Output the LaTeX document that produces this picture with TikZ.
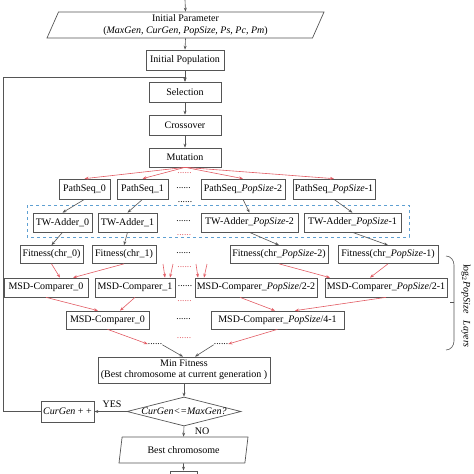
\documentclass[tikz,border=0pt]{standalone}
\usepackage{fontspec}
\setmainfont{Liberation Serif}
\usetikzlibrary{positioning,calc,arrows.meta,shapes.geometric}
\tikzset{>={Stealth[length=4pt,width=3pt]}}
\definecolor{boxgray}{RGB}{85,85,85}
\definecolor{arrred}{RGB}{226,92,100}
\definecolor{dashblue}{RGB}{95,160,210}
\tikzset{
  block/.style={draw=boxgray,line width=0.7pt,inner sep=1pt,minimum height=20pt,
    font=\fontsize{10}{11.5}\selectfont},
  para/.style={block,trapezium,trapezium stretches body=true,align=center},
  flow/.style={draw=boxgray,line width=0.6pt,->},
  redflow/.style={draw=arrred,line width=0.6pt,->},
  dotsb/.style={font=\fontsize{9.5}{11}\selectfont,inner sep=0pt},
  dotsr/.style={dotsb,text=arrred},
  lbl/.style={font=\fontsize{10}{11}\selectfont,inner sep=0pt}
}
\begin{document}
\begin{tikzpicture}[x=1pt,y=-1pt]
\useasboundingbox (0,0) rectangle (474,474);

% Parameters and the GA operators
\coordinate (start) at (185,0);
\node[para,minimum width=277pt,minimum height=26pt,trapezium left angle=63,
  trapezium right angle=117] (param) at (185.5,25)
  {Initial Parameter\\(\textit{MaxGen, CurGen, PopSize, Ps, Pc, Pm})};
\node[block,minimum width=78pt] (initpop) at (185,60) {Initial Population};
\node[block,minimum width=72pt] (select) at (185,92) {Selection};
\node[block,minimum width=72pt] (cross) at (185,125) {Crossover};
\node[block,minimum width=72pt,minimum height=19pt] (mutat) at (185,157.5) {Mutation};
\draw[flow] (start) -- (param.north);
\draw[flow] (param.south) -- (initpop.north);
\draw[flow] (initpop.south) -- (select.north);
\draw[flow] (select) -- (cross);
\draw[flow] (cross) -- (mutat);

% Path sequences
\node[block,minimum width=51pt] (ps0) at (84.5,189) {PathSeq\_0};
\node[block,minimum width=51pt] (ps1) at (142.5,189) {PathSeq\_1};
\node[block,minimum width=84pt] (psn2) at (243,189) {PathSeq\_\textit{PopSize}-2};
\node[block,minimum width=82pt] (psn1) at (334,189) {PathSeq\_\textit{PopSize}-1};
\node[dotsr] (rd0) at (184.5,173) {......};
\node[dotsb] (bd0) at (183.5,188) {......};
\foreach \p in {ps0,ps1,psn2,psn1}
  \draw[redflow] (mutat.south) -- (\p.north);

% Time-window adders in the dashed frame
\draw[dashblue,dashed,line width=0.7pt] (27,205) rectangle (409,237);
\node[block,minimum width=59pt,minimum height=19pt] (tw0) at (62.5,222.5) {TW-Adder\_0};
\node[block,minimum width=59pt,minimum height=19pt] (tw1) at (127.5,222.5) {TW-Adder\_1};
\node[block,minimum width=97pt,minimum height=19pt] (twn2) at (249.5,222.5) {TW-Adder\_\textit{PopSize}-2};
\node[block,minimum width=97pt,minimum height=19pt] (twn1) at (352.5,222.5) {TW-Adder\_\textit{PopSize}-1};
\node[dotsb] (bd1) at (185,202) {......};
\node[dotsb] (bd2) at (183.5,221.5) {......};
\node[dotsr] (rd1) at (184,235) {......};
\draw[flow] (ps0.south) -- (tw0.north);
\draw[flow] (ps1.south) -- (tw1.north);
\draw[flow] (psn2.south) -- (twn2.north);
\draw[flow] (psn1.south) -- (twn1.north);

% Fitness of each chromosome
\node[block,minimum width=63pt,minimum height=18pt] (fit0) at (51.5,254.5) {Fitness(chr\_0)};
\node[block,minimum width=64pt,minimum height=18pt] (fit1) at (124,254.5) {Fitness(chr\_1)};
\node[block,minimum width=98pt,minimum height=18pt] (fitn2) at (279,254.5) {Fitness(chr\_\textit{PopSize}-2)};
\node[block,minimum width=100pt,minimum height=18pt] (fitn1) at (388,254.5) {Fitness(chr\_\textit{PopSize}-1)};
\node[dotsb] (bd3) at (183.5,253.5) {......};
\draw[flow] (tw0.south) -- (fit0.north);
\draw[flow] (tw1.south) -- (fit1.north);
\draw[flow] (twn2.south) -- (fitn2.north);
\draw[flow] (twn1.south) -- (fitn1.north);

% First comparer layer
\node[block,minimum width=84pt,minimum height=19pt] (cmp0) at (46,287.5) {MSD-Comparer\_0};
\node[block,minimum width=80pt,minimum height=19pt] (cmp1) at (135,287.5) {MSD-Comparer\_1};
\node[block,minimum width=122pt,minimum height=19pt] (cmpn2) at (256,287.5) {MSD-Comparer\_\textit{PopSize}/2-2};
\node[block,minimum width=122pt,minimum height=19pt] (cmpn1) at (386,287.5) {MSD-Comparer\_\textit{PopSize}/2-1};
\node[dotsr] (rd2) at (184.5,267) {......};
\node[dotsb] (bd4) at (185,286.5) {......};
\draw[redflow] (fit0.south) -- ($(cmp0.north)+(14,0)$);
\draw[redflow] (fit1.south) -- ($(cmp0.north)+(27,0)$);
\coordinate (in1a) at (163,264);
\coordinate (in1b) at (173,264);
\coordinate (in2a) at (196,264);
\coordinate (in2b) at (207,264);
\draw[redflow] (in1a) -- ($(cmp1.north)+(30,0)$);
\draw[redflow] (in1b) -- ($(cmp1.north)+(35,0)$);
\draw[redflow] (in2a) -- ($(cmpn2.north)+(-58,0)$);
\draw[redflow] (in2b) -- ($(cmpn2.north)+(-52,0)$);
\draw[redflow] (fitn2.south) -- ($(cmpn1.north)+(-56,0)$);
\draw[redflow] (fitn1.south) -- ($(cmpn1.north)+(-16,0)$);

% Second comparer layer
\node[block,minimum width=83pt,minimum height=18pt] (sub0) at (107.5,320) {MSD-Comparer\_0};
\node[block,minimum width=133pt,minimum height=18pt] (subn1) at (277.5,320) {MSD-Comparer\_\textit{PopSize}/4-1};
\node[dotsr] (rd3) at (184.5,301) {......};
\node[dotsb] (bd5) at (183.5,319) {......};
\draw[redflow] (cmp0.south) -- ($(sub0.north)+(-9.5,0)$);
\draw[redflow] (cmp1.south) -- ($(sub0.north)+(12.5,0)$);
\draw[redflow] ($(cmpn2.south)+(-16,0)$) -- ($(subn1.north)+(-2.5,0)$);
\draw[redflow] (cmpn1.south) -- ($(subn1.north)+(17.5,0)$);

% Remaining layers down to the minimum
\node[dotsb] (lay0) at (155,344) {......};
\node[dotsb] (lay1) at (221,344) {......};
\node[dotsr] (rd4) at (184,338) {......};
\draw[redflow] (sub0.south) -- (lay0.west);
\draw[redflow] (subn1.south) -- (lay1.east);

\node[block,minimum width=172pt,minimum height=26pt,align=center] (minfit) at (184,370)
  {Min Fitness\\(Best chromosome at current generation )};
\draw[flow] (lay0.south east) -- ($(minfit.north)+(-1,0)$);
\draw[flow] (lay1.south west) -- ($(minfit.north)+(11,0)$);

% Brace with the number of layers
\draw[boxgray,line width=0.6pt] (446,256) to[out=0,in=90] (454,265) -- (454,341)
  to[out=-90,in=0] (446,350);
\draw[boxgray,line width=0.6pt] (454,302) -- (450,302);
\node[lbl,rotate=-90] (layers) at (466,306)
  {log$_2$\textit{PopSize}\hspace{7pt}\textit{Layers}};

% Loop test and output
\node[block,diamond,inner sep=0pt,minimum width=114pt,minimum height=29pt] (test) at (184,411.5) {};
\node[lbl] (testtxt) at (test) {\textit{CurGen<=MaxGen?}};
\node[block,minimum width=53pt,minimum height=21pt] (inc) at (67.5,411.5) {\textit{CurGen} + +};
\node[para,minimum width=129pt,minimum height=26pt,trapezium left angle=71,
  trapezium right angle=109] (best) at (183.5,450) {Best chromosome};
\node[block,minimum width=27pt,minimum height=18pt] (stop) at (183.5,480) {};
\draw[flow] (minfit.south) -- (test.north);
\draw[flow] (test.west) -- (inc.east);
\draw[flow] (test.south) -- (best.north);
\draw[flow] (best.south) -- (stop.north);
\node[lbl] (yes) at (112,404) {YES};
\node[lbl] (no) at (202,431) {NO};
\coordinate (loop) at (3,77);
\draw[flow] (inc.west) -| (loop) -| (select.north);
\end{tikzpicture}
\end{document}
